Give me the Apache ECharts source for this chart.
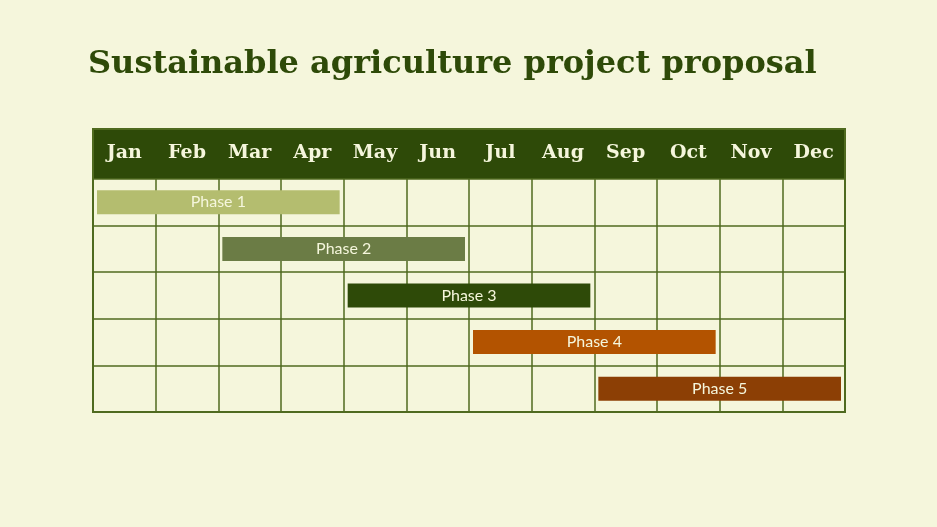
<!DOCTYPE html>
<html>
<head>
<meta charset="utf-8">
<script src="https://cdn.jsdelivr.net/npm/echarts@6/dist/echarts.min.js"></script>
<style>
  html, body { margin: 0; padding: 0; background: #f5f6dc; }
  #main { width: 937px; height: 527px; }
</style>
</head>
<body>
<div id="main"></div>
<script>
const months = ['Jan', 'Feb', 'Mar', 'Apr', 'May', 'Jun', 'Jul', 'Aug', 'Sep', 'Oct', 'Nov', 'Dec'];
const phases = ['Phase 1', 'Phase 2', 'Phase 3', 'Phase 4', 'Phase 5'];
const phaseStart = [0, 2, 4, 6, 8];   // month index where phase begins
const phaseEnd = [4, 6, 8, 10, 12];   // month index where phase ends
const phaseColors = ['#b4bd6f', '#6b7c45', '#2e4a08', '#b35300', '#8c3f05'];

const lineColor = '#4f6a1f';

const myChart = echarts.init(document.getElementById('main'));

const data = phases.map((p, i) => ({
    value: [i, phaseStart[i], phaseEnd[i]],
    name: p,
    itemStyle: { color: phaseColors[i] }
}));

myChart.setOption({
    backgroundColor: '#f5f6dc',
    animation: false,
    title: {
        text: 'Sustainable agriculture project proposal',
        left: 83,
        top: 44,
        textStyle: {
            fontFamily: 'DejaVu Serif',
            fontWeight: 'bold',
            fontSize: 32,
            color: '#2e4a08'
        }
    },
    graphic: [{
        type: 'rect',
        z: 0,
        shape: { x: 93, y: 129, width: 752, height: 50 },
        style: { fill: '#2e4a08' }
    }],
    grid: { left: 93, top: 179, width: 752, height: 233 },
    xAxis: [{
        type: 'value',
        min: 0,
        max: 12,
        interval: 1,
        axisLabel: { show: false },
        axisTick: { show: false },
        axisLine: { show: false },
        splitLine: { show: true, lineStyle: { color: lineColor, width: 1.5 } }
    }, {
        type: 'category',
        data: months,
        position: 'top',
        z: 10,
        axisLine: { show: false },
        axisTick: { show: false },
        axisLabel: {
            margin: 16,
            color: '#f5f6dc',
            fontFamily: 'DejaVu Serif',
            fontWeight: 'bold',
            fontSize: 19
        }
    }],
    yAxis: {
        type: 'category',
        data: phases,
        inverse: true,
        axisLabel: { show: false },
        axisTick: { show: false },
        axisLine: { show: false },
        splitLine: { show: true, lineStyle: { color: lineColor, width: 1.5 } }
    },
    series: [{
        type: 'custom',
        xAxisIndex: 0,
        renderItem: function (params, api) {
            const row = api.value(0);
            const start = api.coord([api.value(1), row]);
            const end = api.coord([api.value(2), row]);
            const h = 24;
            return {
                type: 'rect',
                shape: { x: start[0] + 4, y: start[1] - h / 2, width: end[0] - start[0] - 8, height: h },
                style: api.style({
                    text: phases[params.dataIndex],
                    textFill: '#f5f6dc',
                    fontFamily: 'Montserrat, Lato, sans-serif',
                    fontSize: 16
                }),
                textContent: {
                    style: {
                        text: phases[params.dataIndex],
                        fill: '#f5f6dc',
                        fontFamily: 'Lato',
                        fontSize: 16
                    }
                },
                textConfig: { position: 'inside' }
            };
        },
        encode: { x: [1, 2], y: 0 },
        data: data
    }]
});

// outer border
myChart.setOption({
    graphic: [{
        type: 'rect',
        z: 0,
        shape: { x: 93, y: 129, width: 752, height: 50 },
        style: { fill: '#2e4a08' }
    }, {
        type: 'rect',
        z: 20,
        shape: { x: 93, y: 129, width: 752, height: 283 },
        style: { fill: 'none', stroke: lineColor, lineWidth: 2 }
    }]
});
</script>
</body>
</html>
